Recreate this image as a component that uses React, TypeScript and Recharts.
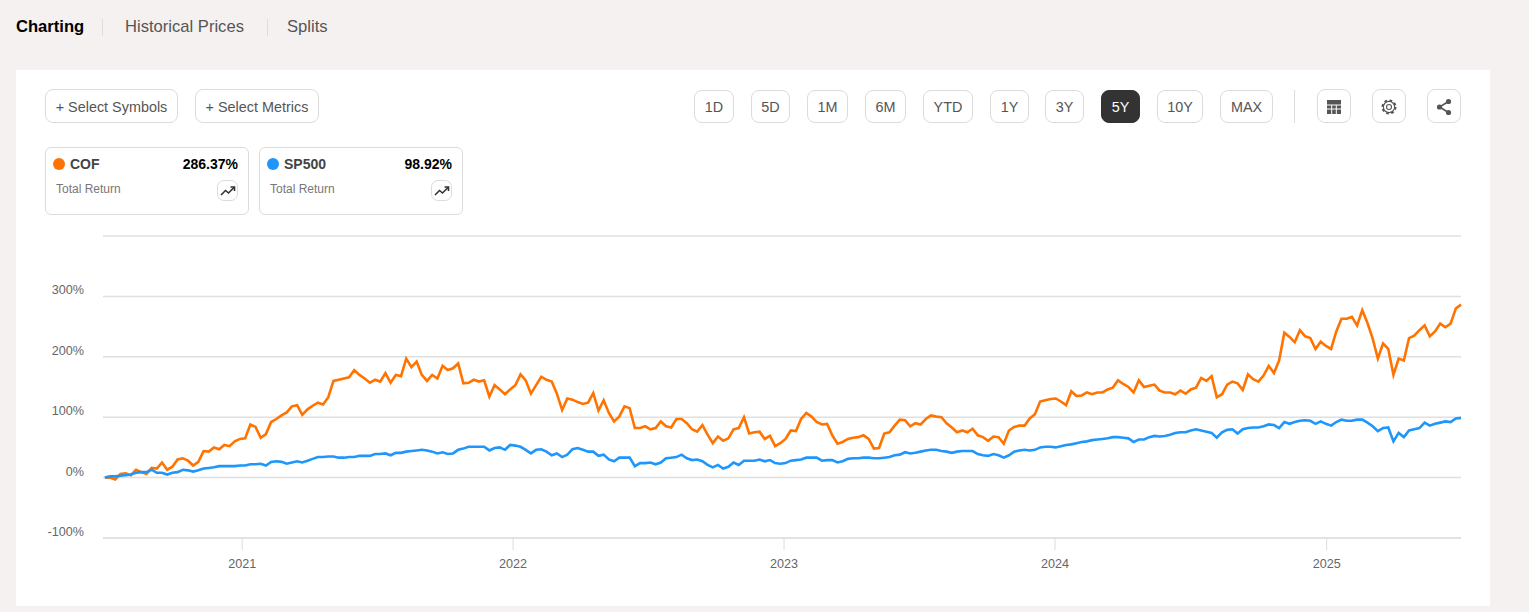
import {
  CartesianGrid,
  Line,
  LineChart,
  XAxis,
  YAxis,
} from "recharts";

// weekly readings, % total return, starting 30 Jun 2020
const cofA = [
  0, 0, -3, 6, 7, 4, 13, 9, 6, 16, 15, 25, 13, 18, 30, 32, 28, 20, 26, 44, 43, 50, 47, 54, 52, 60, 64, 65, 88, 84,
  66, 72, 92, 97, 103, 108, 118, 120, 104, 113, 119, 124, 121, 133, 160,
];
const cofB = [
  162, 164, 166, 178, 170, 164, 157, 162, 159, 173, 157, 170, 168, 197, 183, 192, 170, 160, 170, 164, 185, 178, 181,
  189, 156, 157, 162, 159, 161, 134, 153, 146, 138, 146, 153, 171, 161, 139, 153, 167, 162, 159, 139, 112,
];
const cofC = [
  131, 129, 125, 122, 124, 140, 111, 128, 107, 93, 101, 118, 115, 82, 82, 85, 80, 82, 93, 85, 83, 97, 97, 90, 80, 76,
  87, 71, 57, 68, 61, 65, 80, 82, 100, 73, 75, 76, 64, 69, 52, 57, 64, 78,
];
const cofD = [
  77, 97, 107, 101, 92, 88, 89, 70, 56, 59, 64, 66, 67, 70, 64, 48, 49, 73, 75, 86, 96, 95, 85, 90, 88, 97, 103, 101,
  100, 90, 83, 75, 78, 75, 81, 70, 67, 61, 68, 67, 56, 78, 84, 86, 86,
];
const cofE = [
  98, 105, 126, 128, 130, 131, 126, 120, 143, 135, 136, 141, 138, 141, 141, 146, 149, 161, 155, 150, 141, 161, 150,
  152, 154, 144, 141, 141, 138, 144, 139, 146, 149, 165, 160, 168, 133, 138, 154, 159, 156, 145, 171, 163,
];
const cofF = [
  159, 169, 185, 173, 194, 240, 233, 224, 244, 234, 231, 213, 225, 218, 213, 242, 263, 263, 266, 252, 277, 256, 230,
  197, 222, 213, 170, 197, 194, 231, 235, 244, 252, 234, 242, 255, 249, 255, 280, 286.37,
];

const spA = [
  0, 2, 2, 3, 4, 5, 8, 9, 9, 13, 8, 8, 5, 8, 9, 13, 12, 10, 12, 15, 16, 17, 19, 19, 19, 19, 20, 20, 22, 22, 23, 20,
  26, 27, 26, 23, 25, 27, 25, 28, 31, 34, 34, 35, 35,
];
const spB = [
  33, 33, 34, 34, 36, 36, 36, 39, 39, 40, 37, 41, 41, 43, 44, 45, 46, 45, 43, 40, 42, 39, 40, 46, 48, 51, 51, 51, 51,
  45, 49, 50, 46, 54, 53, 51, 46, 40, 46, 47, 43, 37, 40, 34,
];
const spC = [
  38, 47, 49, 46, 43, 43, 36, 38, 30, 27, 33, 33, 33, 19, 24, 24, 25, 22, 25, 32, 33, 34, 38, 32, 29, 30, 27, 21, 17,
  21, 15, 18, 25, 21, 28, 28, 28, 30, 27, 29, 24, 23, 24, 28,
];
const spD = [
  29, 30, 33, 33, 33, 28, 29, 29, 25, 27, 31, 32, 32, 33, 33, 32, 32, 33, 34, 37, 38, 42, 40, 41, 43, 45, 46, 46, 44,
  43, 41, 43, 44, 44, 44, 39, 37, 36, 39, 37, 33, 37, 43, 45, 46,
];
const spE = [
  45, 46, 50, 51, 51, 50, 52, 54, 55, 57, 59, 60, 62, 63, 64, 65, 67, 67, 66, 65, 59, 63, 63, 67, 69, 68, 69, 71, 74,
  75, 75, 78, 80, 78, 76, 74, 66, 75, 79, 80, 73, 80, 82, 83,
];
const spF = [
  83, 85, 88, 87, 82, 92, 89, 92, 94, 95, 94, 89, 93, 89, 86, 92, 96, 94, 94, 96, 96, 91, 85, 77, 82, 83, 60, 74, 67,
  78, 80, 82, 91, 86, 89, 91, 93, 92, 98, 98.92,
];

const cofValues = [...cofA, ...cofB, ...cofC, ...cofD, ...cofE, ...cofF];
const spValues = [...spA, ...spB, ...spC, ...spD, ...spE, ...spF];

const yearTicks = [2021, 2022, 2023, 2024, 2025];
const returnTicks = [-100, 0, 100, 200, 300, 400];
const rangeButtons: [string, number, number][] = [
  ["1D", 694, 40],
  ["5D", 751, 39],
  ["1M", 807, 41],
  ["6M", 865, 41],
  ["YTD", 923, 50],
  ["1Y", 990, 39],
  ["3Y", 1045, 39],
  ["5Y", 1101, 39],
  ["10Y", 1157, 46],
  ["MAX", 1220, 53],
];

const DAY = 86400000;
const firstDay = Date.UTC(2020, 5, 30);
const data = cofValues.map((cof, i) => ({
  date: firstDay + i * 7 * DAY,
  cof,
  sp: spValues[i],
}));

const FONT = '"Liberation Sans", Arial, sans-serif';
const BORDER = "#dcdcdc";
const box = (left: number, top: number, width: number, height: number): React.CSSProperties => ({
  position: "absolute",
  left,
  top,
  width,
  height,
  boxSizing: "border-box",
});

function Button({ left, top, width, height, dark, children }: any) {
  return (
    <div
      style={{
        ...box(left, top, width, height),
        border: `1px solid ${dark ? "#333" : BORDER}`,
        borderRadius: 8,
        background: dark ? "#333" : "#fff",
        color: dark ? "#fff" : "#555",
        fontSize: 14.4,
        paddingTop: 1,
        display: "flex",
        alignItems: "center",
        justifyContent: "center",
      }}
    >
      {children}
    </div>
  );
}

function TrendIcon() {
  return (
    <svg width="16" height="12" viewBox="0 0 16 12">
      <path d="M1 10 L5.5 5.5 L8.5 8 L14 2.5" fill="none" stroke="#333" strokeWidth="1.6" />
      <path d="M10.5 2 H14.5 V6" fill="none" stroke="#333" strokeWidth="1.6" />
    </svg>
  );
}

function SymbolCard({ left, width, color, name, value }: any) {
  return (
    <div style={{ ...box(left, 147, width, 68), border: `1px solid ${BORDER}`, borderRadius: 6, background: "#fff" }}>
      <div style={{ ...box(7, 10, 12, 12), borderRadius: "50%", background: color }} />
      <div style={{ position: "absolute", left: 24, top: 8, fontSize: 14, fontWeight: 700, color: "#444" }}>{name}</div>
      <div style={{ position: "absolute", right: 10, top: 8, fontSize: 14, fontWeight: 700, color: "#000" }}>{value}</div>
      <div style={{ position: "absolute", left: 10, top: 34, fontSize: 12, color: "#777" }}>Total Return</div>
      <div
        style={{
          ...box(width - 33, 32, 21, 21),
          border: `1px solid ${BORDER}`,
          borderRadius: 7,
          display: "flex",
          alignItems: "center",
          justifyContent: "center",
        }}
      >
        <TrendIcon />
      </div>
    </div>
  );
}

function YTick({ y, payload }: any) {
  if (payload.value === 400) return null;
  return (
    <text x={84} y={y - 2} textAnchor="end" fontSize={12.6} fill="#666" fontFamily={FONT}>
      {payload.value}%
    </text>
  );
}

export default function App() {
  return (
    <div style={{ ...box(0, 0, 1529, 612), background: "#f5f1f0", fontFamily: FONT, overflow: "hidden" }}>
      <div style={{ position: "absolute", left: 16, top: 17, fontSize: 16.6, fontWeight: 700, color: "#000" }}>Charting</div>
      <div style={{ ...box(102, 19, 1, 17), background: "#ddd" }} />
      <div style={{ position: "absolute", left: 125, top: 17, fontSize: 16.6, color: "#555" }}>Historical Prices</div>
      <div style={{ ...box(267, 19, 1, 17), background: "#ddd" }} />
      <div style={{ position: "absolute", left: 287, top: 17, fontSize: 16.6, color: "#555" }}>Splits</div>

      <div style={{ ...box(16, 70, 1474, 536), background: "#fff" }} />

      <Button left={45} top={89} width={133} height={34}>+ Select Symbols</Button>
      <Button left={195} top={89} width={124} height={34}>+ Select Metrics</Button>

      {rangeButtons.map(([label, left, width]) => (
        <Button key={label} left={left} top={90} width={width} height={33} dark={label === "5Y"}>
          {label}
        </Button>
      ))}
      <div style={{ ...box(1294, 90, 1, 33), background: "#ddd" }} />

      <Button left={1317} top={89} width={34} height={34}>
        <svg width="16" height="16" viewBox="0 0 16 16">
          <rect x="1" y="1" width="14" height="14" fill="#555" />
          <path d="M1 6 H15 M1 10 H15 M5.7 6 V15 M10.3 6 V15" stroke="#fff" strokeWidth="1" />
        </svg>
      </Button>
      <Button left={1372} top={89} width={34} height={34}>
        <svg width="18" height="18" viewBox="0 0 16 16">
          <circle cx="8" cy="8" r="5.4" fill="none" stroke="#555" strokeWidth="2.6" strokeDasharray="2.2 2" />
          <circle cx="8" cy="8" r="5" fill="#fff" stroke="#555" strokeWidth="1" />
          <circle cx="8" cy="8" r="2.2" fill="none" stroke="#555" strokeWidth="1" />
        </svg>
      </Button>
      <Button left={1427} top={89} width={34} height={34}>
        <svg width="18" height="18" viewBox="0 0 18 18">
          <path d="M13.5 3.5 L4.5 9 L13.5 14.5" fill="none" stroke="#555" strokeWidth="1.6" />
          <circle cx="13.5" cy="3.5" r="2.6" fill="#555" />
          <circle cx="4.5" cy="9" r="2.6" fill="#555" />
          <circle cx="13.5" cy="14.5" r="2.6" fill="#555" />
        </svg>
      </Button>

      <SymbolCard left={45} width={204} color="#ff7300" name="COF" value="286.37%" />
      <SymbolCard left={259} width={204} color="#1e96fc" name="SP500" value="98.92%" />

      <div style={{ position: "absolute", left: 0, top: 0 }}>
        <LineChart
          width={1529}
          height={612}
          data={data}
          margin={{ top: 236, right: 68, bottom: 44, left: 0 }}
        >
          <CartesianGrid horizontal vertical={false} stroke="#e0e0e0" strokeWidth={1.5} />
          <XAxis
            dataKey="date"
            type="number"
            scale="time"
            domain={[Date.UTC(2020, 5, 27, 12), Date.UTC(2025, 6, 1)]}
            ticks={yearTicks.map((y) => Date.UTC(y, 0, 1))}
            tickFormatter={(v: number) => String(new Date(v).getUTCFullYear())}
            tick={{ fontSize: 12.6, fill: "#666", fontFamily: FONT }}
            tickSize={12}
            tickMargin={9}
            height={30}
            stroke="#dcdcdc"
            axisLine={{ stroke: "#e0e0e0", strokeWidth: 1.5 }}
          />
          <YAxis
            type="number"
            domain={[-100, 400]}
            ticks={returnTicks}
            width={103}
            axisLine={false}
            tickLine={false}
            tick={<YTick />}
          />
          <Line dataKey="cof" stroke="#ff7300" strokeWidth={2.6} dot={false} isAnimationActive={false} />
          <Line dataKey="sp" stroke="#1e96fc" strokeWidth={2.6} dot={false} isAnimationActive={false} />
        </LineChart>
      </div>
    </div>
  );
}
